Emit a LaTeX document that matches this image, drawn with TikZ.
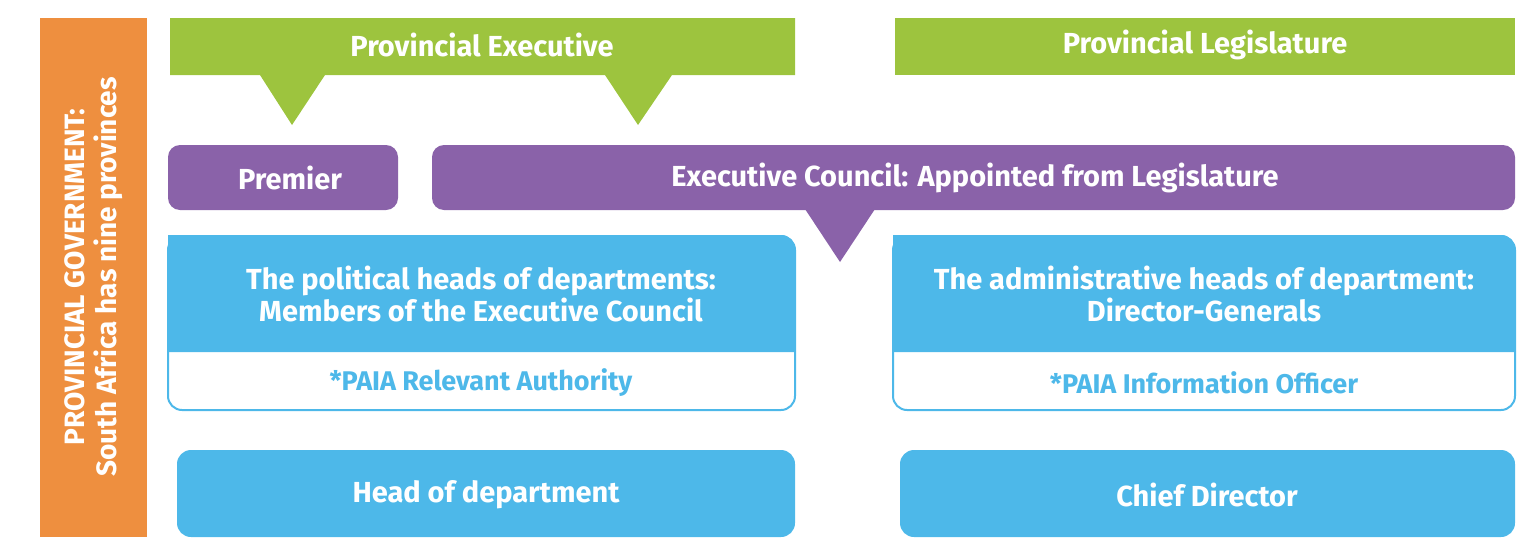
\documentclass[tikz,border=0pt]{standalone}
\usepackage{fontspec}
\setmainfont{Fira Sans}
\begin{document}
\begin{tikzpicture}[x=1pt,y=-1pt,
  txt/.style={font=\fontsize{29}{32}\selectfont\bfseries,text=white,align=center},
  btxt/.style={font=\fontsize{27}{30}\selectfont\bfseries,text=blueC,align=center}]
\definecolor{greenC}{HTML}{9DC43E}
\definecolor{purpC}{HTML}{8A62A9}
\definecolor{blueC}{HTML}{4DB8E9}
\definecolor{orgC}{HTML}{EE8F3F}
\useasboundingbox (0,0) rectangle (1535,555);
% orange bar
\fill[orgC] (40,18) rectangle (147,537);
\node[txt,rotate=90,font=\fontsize{28}{32}\selectfont\bfseries] (gov) at (93.5,277) {PROVINCIAL GOVERNMENT:\\South Africa has nine provinces};
% green
\fill[greenC] (170,18) -- (795,18) -- (795,75) -- (672,75) -- (638,125) -- (605,75) -- (325,75) -- (292,125) -- (260,75) -- (170,75) -- cycle;
\node[txt] (pe) at (482,45) {Provincial Executive};
\fill[greenC] (895,18) rectangle (1515,75);
\node[txt] (pl) at (1205,45) {Provincial Legislature};
% purple
\fill[purpC,rounded corners=12] (168,145) rectangle (398,210);
\node[txt] (pr) at (290,178) {Premier};
\fill[purpC,rounded corners=12] (432,145) rectangle (1515,210);
\fill[purpC] (805,209) -- (840,262) -- (875,209) -- cycle;
\node[txt] (ec) at (975,178) {Executive Council: Appointed from Legislature};
% split boxes
\foreach \a/\b/\n in {168/795/L,893/1515/R}{
  \draw[blueC,line width=2,fill=white,rounded corners=14] (\a,236) rectangle (\b,410);
  \fill[blueC,rounded corners=14] (\a,235) -- (\b,235) -- (\b,352) [sharp corners] -- (\b,352) -- (\a,352) -- cycle;
  \fill[blueC] (\a-1,300) rectangle (\b+1,352);
}
\node[txt] (ph) at (481,294) {The political heads of departments:\\Members of the Executive Council};
\node[btxt] (ra) at (481,383) {*PAIA Relevant Authority};
\node[txt] (ah) at (1204,294) {The administrative heads of department:\\Director-Generals};
\node[btxt] (io) at (1204,383) {*PAIA Information Officer};
% bottom
\fill[blueC,rounded corners=14] (177,450) rectangle (795,537);
\node[txt] (hd) at (486,495) {Head of department};
\fill[blueC,rounded corners=14] (900,450) rectangle (1515,537);
\node[txt] (cd) at (1207,495) {Chief Director};
\end{tikzpicture}
\end{document}
